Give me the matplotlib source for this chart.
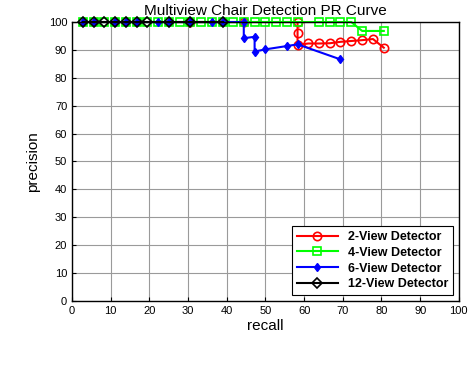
import matplotlib
matplotlib.use("Agg")
import matplotlib.pyplot as plt

plt.rcParams['font.family'] = ['Liberation Sans', 'DejaVu Sans']

# recall / precision
r2 = [30.6, 44.4, 58.3, 58.3, 58.3, 61.1, 63.9, 66.7, 69.4, 72.2, 75.0, 77.8, 80.6]
p2 = [100, 100, 100, 95.9, 91.8, 92.3, 92.3, 92.4, 92.9, 93.2, 93.5, 93.9, 90.8]

r4 = [2.8, 5.6, 8.3, 11.1, 13.9, 16.7, 19.4, 22.2, 25.0, 27.8, 30.6, 33.3, 36.1,
      38.9, 41.7, 44.4, 47.2, 50.0, 52.8, 55.6, 58.3, 63.9, 66.7, 69.4, 72.2,
      75.0, 80.6]
p4 = [100] * 25 + [96.8, 96.8]

r6 = [2.8, 5.6, 11.1, 13.9, 16.7, 22.2, 25.0, 30.6, 36.1, 38.9, 44.4, 44.4,
      47.2, 47.2, 50.0, 55.6, 58.3, 69.4]
p6 = [100] * 11 + [94.2, 94.7, 89.4, 90.2, 91.4, 92.0, 86.6]

r12 = [2.8, 5.6, 8.3, 11.1, 13.9, 16.7, 19.4, 25.0, 30.6, 38.9]
p12 = [100] * 10

fig = plt.figure(figsize=(4.74, 3.67), dpi=100)
ax = fig.add_axes([0.152, 0.180, 0.816, 0.760])

ax.plot(r2, p2, color='#ff0000', marker='o', mfc='none', ms=6, mew=1.2, lw=1.5,
        label='2-View Detector', clip_on=False)
ax.plot(r4, p4, color='#00ff00', marker='s', mfc='none', ms=6, mew=1.2, lw=1.5,
        label='4-View Detector', clip_on=False)
ax.plot(r6, p6, color='#0000ff', marker='d', ms=4.5, lw=1.5,
        label='6-View Detector', clip_on=False)
ax.plot(r12, p12, color='black', marker='D', mfc='none', ms=5.5, mew=1.2, lw=1.5,
        label='12-View Detector', clip_on=False)

ax.set_xlim(0, 100)
ax.set_ylim(0, 100)
ax.set_xticks(range(0, 101, 10))
ax.set_yticks(range(0, 101, 10))
ax.tick_params(direction='in', labelsize=8, length=3, width=0.8)
ax.grid(True, color='#9a9a9a', lw=0.8)
ax.set_axisbelow(True)
for s in ax.spines.values():
    s.set_linewidth(1.0)

ax.set_title('Multiview Chair Detection PR Curve', fontsize=11, pad=5)
ax.set_xlabel('recall', fontsize=11, labelpad=2)
ax.set_ylabel('precision', fontsize=11, labelpad=6)

leg = ax.legend(loc='lower right', prop={'weight': 'bold', 'size': 9},
                fancybox=False, edgecolor='black', framealpha=1,
                handlelength=3.3, borderaxespad=0.45, labelspacing=0.3)
leg.get_frame().set_linewidth(0.8)

fig.savefig('out.png', dpi=100)
